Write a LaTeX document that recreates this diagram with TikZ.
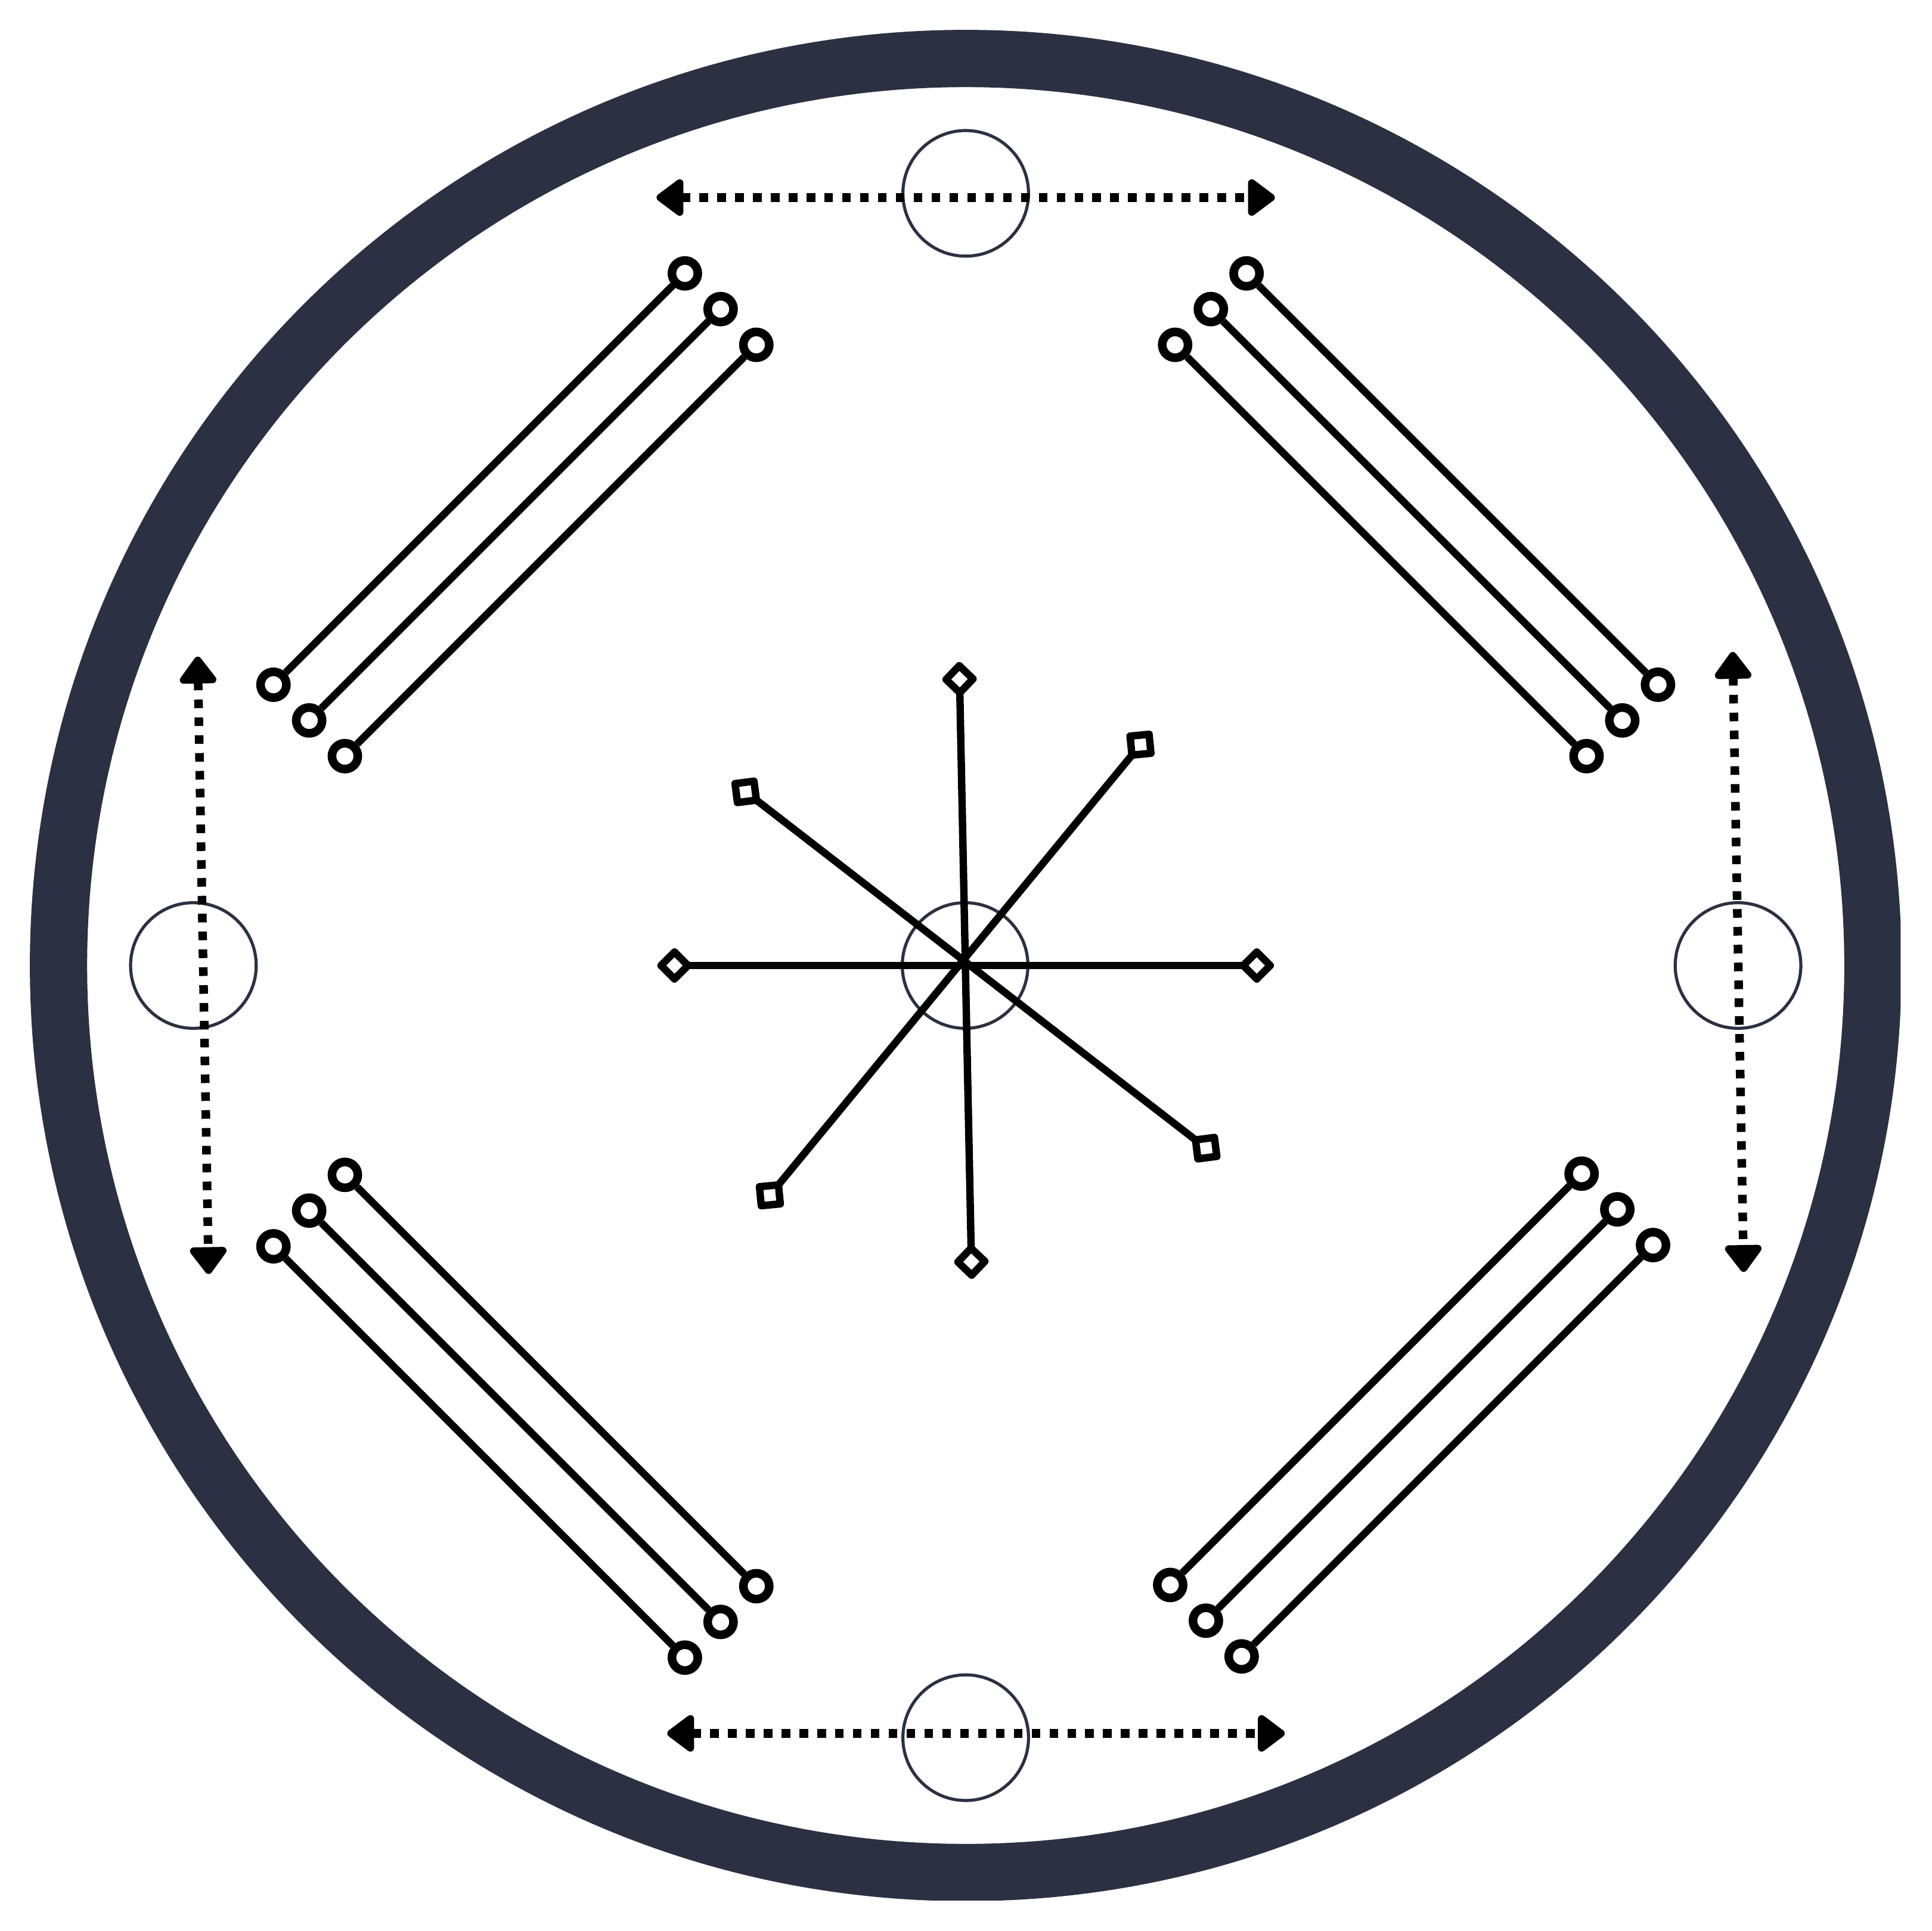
\documentclass[tikz,border=0pt]{standalone}
\usetikzlibrary{arrows.meta}
\definecolor{ringcol}{RGB}{43,49,66}
\tikzset{
  hole/.style={circle, draw, fill=white, line width=7pt, minimum size=21pt, inner sep=0pt},
  stub/.style={rectangle, draw, fill=white, line width=6pt, line join=round, minimum size=15.5pt, inner sep=0pt},
  lens/.style={circle, draw=ringcol, line width=2.5pt, minimum size=102pt, inner sep=0pt},
  wire/.style={line width=6pt},
  slide/.style={line width=7pt, dash pattern=on 7pt off 7.5pt,
    {Triangle[length=24pt,width=34pt,round]}-{Triangle[length=24pt,width=34pt,round]}},
}
\begin{document}
\begin{tikzpicture}[x=1pt,y=-1pt]
                \useasboundingbox (0,0) rectangle (1568,1568);
                \fill[white] (0,0) rectangle (1568,1568);
                \begin{scope}
                    \clip (0,0) rectangle (1543,1543);
                    \draw[ringcol, line width=46.5pt] (784,784) circle[radius=736.5];
                \end{scope}

                \node[lens] (lensT) at (784,157) {};
                \node[lens] (lensB) at (784,1411) {};
                \node[lens] (lensL) at (157,784) {};
                \node[lens] (lensR) at (1411,784) {};
                \node[lens] (lensC) at (783.5,784) {};

                \coordinate (slT1) at (533,160.4);
                \coordinate (slT2) at (1035,160.4);
                \coordinate (slB1) at (541.7,1407.5);
                \coordinate (slB2) at (1043,1407.5);
                \coordinate (slL1) at (160.5,533.2);
                \coordinate (slL2) at (169.4,1034.5);
                \coordinate (slR1) at (1406.7,529.4);
                \coordinate (slR2) at (1415.6,1032.8);

                \draw[slide] (slT1) -- (slT2);
                \draw[slide] (slB1) -- (slB2);
                \draw[slide] (slL1) -- (slL2);
                \draw[slide] (slR1) -- (slR2);

                \node[hole] (tl1a) at (556,222) {};
                \node[hole] (tl1b) at (222,556) {};
                \node[hole] (tl2a) at (585,251) {};
                \node[hole] (tl2b) at (251,585) {};
                \node[hole] (tl3a) at (614,280) {};
                \node[hole] (tl3b) at (280,614) {};
                \node[hole] (tr1a) at (1012,222) {};
                \node[hole] (tr1b) at (1346,556) {};
                \node[hole] (tr2a) at (983,251) {};
                \node[hole] (tr2b) at (1317,585) {};
                \node[hole] (tr3a) at (954,280) {};
                \node[hole] (tr3b) at (1288,614) {};
                \node[hole] (bl1a) at (280,954) {};
                \node[hole] (bl1b) at (614,1288) {};
                \node[hole] (bl2a) at (251,983) {};
                \node[hole] (bl2b) at (585,1317) {};
                \node[hole] (bl3a) at (222,1012) {};
                \node[hole] (bl3b) at (556,1346) {};
                \node[hole] (br1a) at (1284,953) {};
                \node[hole] (br1b) at (950,1287) {};
                \node[hole] (br2a) at (1313,982) {};
                \node[hole] (br2b) at (979,1316) {};
                \node[hole] (br3a) at (1342,1011) {};
                \node[hole] (br3b) at (1008,1345) {};

                \draw[wire] (tl1a) -- (tl1b);
                \draw[wire] (tl2a) -- (tl2b);
                \draw[wire] (tl3a) -- (tl3b);
                \draw[wire] (tr1a) -- (tr1b);
                \draw[wire] (tr2a) -- (tr2b);
                \draw[wire] (tr3a) -- (tr3b);
                \draw[wire] (bl1a) -- (bl1b);
                \draw[wire] (bl2a) -- (bl2b);
                \draw[wire] (bl3a) -- (bl3b);
                \draw[wire] (br1a) -- (br1b);
                \draw[wire] (br2a) -- (br2b);
                \draw[wire] (br3a) -- (br3b);

                \coordinate (enT) at (779,551.5);
                \coordinate (enB) at (788.6,1024.5);
                \coordinate (enL) at (547.6,784);
                \coordinate (enR) at (1020.3,784);
                \coordinate (enUL) at (605.4,643);
                \coordinate (enLR) at (979.2,932.3);
                \coordinate (enUR) at (925.9,604.7);
                \coordinate (enLL) at (625,970.6);

                \draw[wire] (enL) -- (enR);
                \draw[wire] (enT) -- (enB);
                \draw[wire] (enUL) -- (enLR);
                \draw[wire] (enUR) -- (enLL);

                \node[stub, rotate=-43.8] (spT) at (enT) {};
                \node[stub, rotate=-43.8] (spB) at (enB) {};
                \node[stub, rotate=45] (spL) at (enL) {};
                \node[stub, rotate=45] (spR) at (enR) {};
                \node[stub, rotate=7.3] (spUL) at (enUL) {};
                \node[stub, rotate=7.3] (spLR) at (enLR) {};
                \node[stub, rotate=5.6] (spUR) at (enUR) {};
                \node[stub, rotate=5.6] (spLL) at (enLL) {};
            \end{tikzpicture}
\end{document}
